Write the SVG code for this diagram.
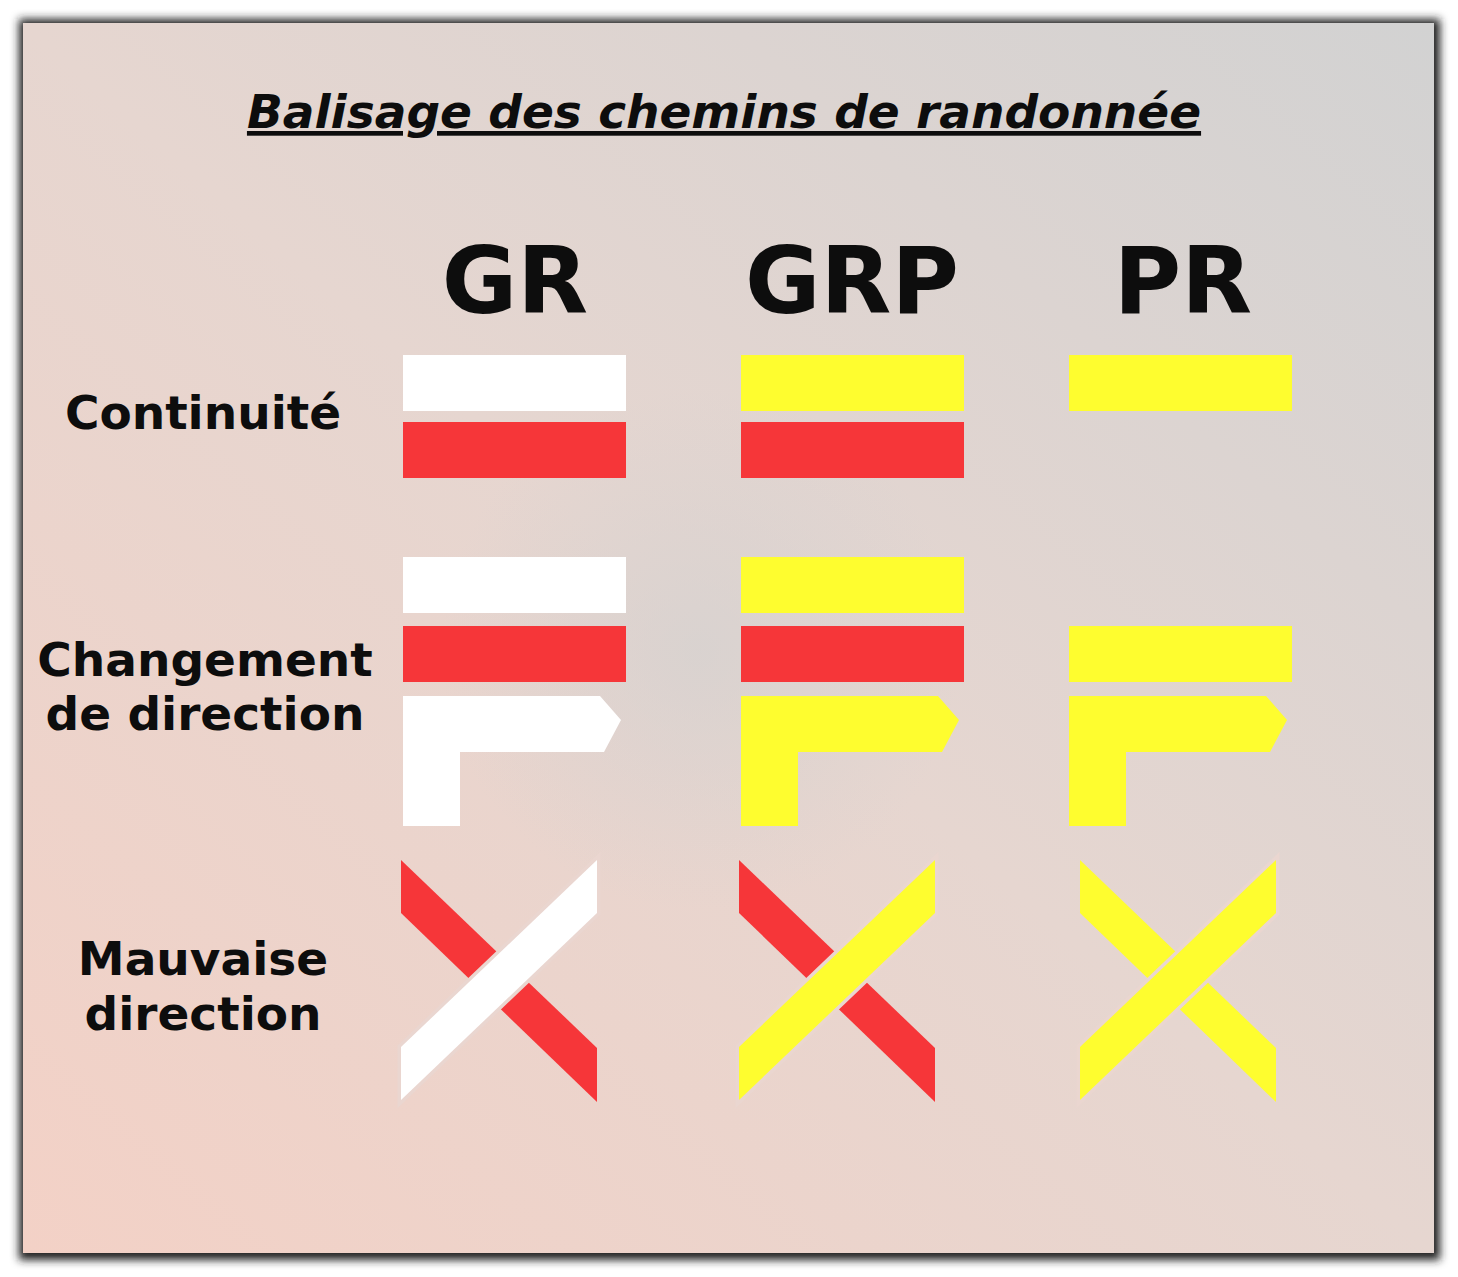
<svg xmlns="http://www.w3.org/2000/svg" width="1458" height="1277" viewBox="0 0 1458 1277">
<defs>
<linearGradient id="bg" x1="0" y1="1" x2="1" y2="0">
<stop offset="0" stop-color="#f3d1c6"/><stop offset="0.5" stop-color="#e6d6d0"/><stop offset="1" stop-color="#d2d2d2"/>
</linearGradient>
<radialGradient id="spot" cx="700" cy="650" r="260" gradientUnits="userSpaceOnUse">
<stop offset="0" stop-color="#d0d0d0" stop-opacity="0.6"/><stop offset="1" stop-color="#d0d0d0" stop-opacity="0"/>
</radialGradient>
<filter id="blur" x="-5%" y="-5%" width="110%" height="110%"><feGaussianBlur stdDeviation="4"/></filter>
<style>
text{font-family:"DejaVu Sans",sans-serif;font-weight:bold;fill:#0d0d0d;text-anchor:middle}
.lab{font-size:47px}
.col{font-size:92px}
.r{fill:#f63639}.w{fill:#fff}.y{fill:#fefd2f}
.gap{stroke:#ead6d0;stroke-width:7;paint-order:stroke}
</style>
</defs>
<rect x="19" y="19" width="1421" height="1241" fill="#222" filter="url(#blur)"/>
<rect x="23" y="23" width="1411" height="1230" fill="url(#bg)"/>
<rect x="23" y="23" width="1411" height="1230" fill="url(#spot)"/>
<text x="724" y="128" style="font-size:47px;font-style:italic;text-decoration:underline">Balisage des chemins de randonnée</text>
<g id="headers">
<text class="col" x="515" y="313">GR</text>
<text class="col" x="852" y="313">GRP</text>
<text class="col" x="1183" y="313">PR</text>
</g>
<g id="labels">
<text class="lab" x="203" y="429">Continuité</text>
<text class="lab" x="205" y="676">Changement</text>
<text class="lab" x="205" y="730">de direction</text>
<text class="lab" x="203" y="975">Mauvaise</text>
<text class="lab" x="203" y="1030">direction</text>
</g>
<g id="gr">
<rect class="w" x="403" y="355" width="223" height="56"/>
<rect class="r" x="403" y="422" width="223" height="56"/>
<rect class="w" x="403" y="557" width="223" height="56"/>
<rect class="r" x="403" y="626" width="223" height="56"/>
<polygon class="w" points="403,696 600,696 621,720 604,752 460,752 460,826 403,826"/>
<polygon class="r" points="401,860 597,1048 597,1102 401,913"/>
<polygon class="w gap" points="401,1047 597,860 597,913 401,1100"/>
</g>
<g id="grp">
<rect class="y" x="741" y="355" width="223" height="56"/>
<rect class="r" x="741" y="422" width="223" height="56"/>
<rect class="y" x="741" y="557" width="223" height="56"/>
<rect class="r" x="741" y="626" width="223" height="56"/>
<polygon class="y" points="741,696 938,696 959,720 942,752 798,752 798,826 741,826"/>
<polygon class="r" points="739,860 935,1048 935,1102 739,913"/>
<polygon class="y gap" points="739,1047 935,860 935,913 739,1100"/>
</g>
<g id="pr">
<rect class="y" x="1069" y="355" width="223" height="56"/>
<rect class="y" x="1069" y="626" width="223" height="56"/>
<polygon class="y" points="1069,696 1266,696 1287,720 1270,752 1126,752 1126,826 1069,826"/>
<polygon class="y" points="1080,860 1276,1048 1276,1102 1080,913"/>
<polygon class="y gap" points="1080,1047 1276,860 1276,913 1080,1100"/>
</g>
</svg>
